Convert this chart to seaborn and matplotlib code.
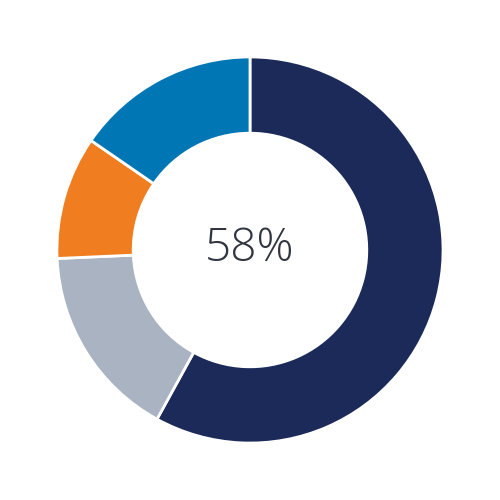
import matplotlib
matplotlib.use("Agg")
import matplotlib.pyplot as plt
import seaborn as sns

# Segment data (clockwise from top)
labels = ["Navy", "Gray", "Orange", "Blue"]
values = [58, 16.3, 10.3, 15.4]
colors = ["#1c2a5a", "#a9b3c2", "#f07d1f", "#0076b4"]
center_label = "58%"

sns.set_theme(style="white")
plt.rcParams['font.family'] = ['Open Sans', 'DejaVu Sans']

fig = plt.figure(figsize=(5, 5), dpi=100)
ax = fig.add_axes([0, 0, 1, 1])

ax.pie(values, colors=colors, startangle=90, counterclock=False,
       radius=1, wedgeprops=dict(width=0.395, edgecolor="white", linewidth=2))

ax.text(0, 0.005, center_label, ha="center", va="center",
        fontsize=33, color="#30353f", fontweight="light")

ax.set_xlim(-1.295, 1.295)
ax.set_ylim(-1.295, 1.295)
ax.set_aspect("equal")
ax.axis("off")

fig.savefig("out.png", dpi=100, facecolor="white")
